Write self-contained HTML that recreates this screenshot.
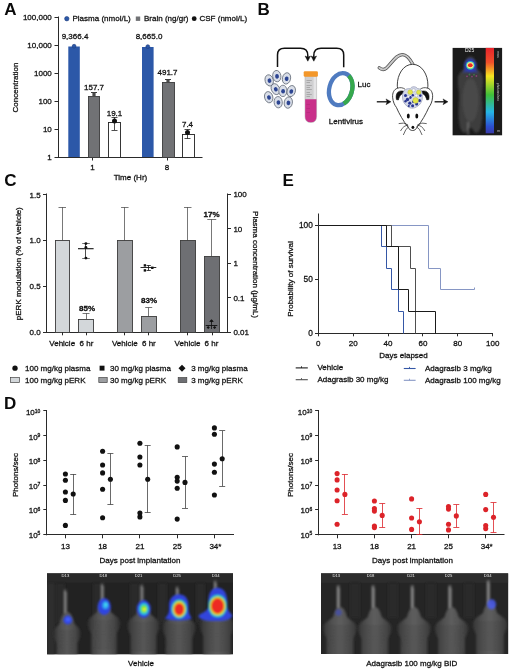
<!DOCTYPE html>
<html lang="en"><head><meta charset="utf-8"><title>Figure</title>
<style>
html,body{margin:0;padding:0;background:#fff;}
body{width:520px;height:670px;overflow:hidden;}
svg{display:block;font-family:"Liberation Sans", sans-serif;}
</style></head><body>
<svg width="520" height="670" viewBox="0 0 520 670">
<rect width="520" height="670" fill="#fff"/>
<defs>
<filter id="b1" x="-50%" y="-50%" width="200%" height="200%"><feGaussianBlur stdDeviation="0.8"/></filter>
<filter id="b2" x="-50%" y="-50%" width="200%" height="200%"><feGaussianBlur stdDeviation="1.6"/></filter>
<filter id="b3" x="-50%" y="-50%" width="200%" height="200%"><feGaussianBlur stdDeviation="2.5"/></filter>
<filter id="b05" x="-50%" y="-50%" width="200%" height="200%"><feGaussianBlur stdDeviation="0.45"/></filter>
<linearGradient id="cbar" x1="0" y1="0" x2="0" y2="1">
<stop offset="0" stop-color="#e8232b"/><stop offset="0.17" stop-color="#f0502a"/><stop offset="0.33" stop-color="#f6e520"/>
<stop offset="0.55" stop-color="#3fbf3a"/><stop offset="0.75" stop-color="#25b6e6"/><stop offset="0.92" stop-color="#2c4fd0"/><stop offset="1" stop-color="#3a3aa8"/>
</linearGradient>
<linearGradient id="bgv" x1="0" y1="0" x2="0" y2="1">
<stop offset="0" stop-color="#3a3a3a"/><stop offset="0.12" stop-color="#2b2b2b"/><stop offset="0.6" stop-color="#2d2d2d"/><stop offset="1" stop-color="#262626"/>
</linearGradient>
<linearGradient id="bgt" x1="0" y1="0" x2="0" y2="1">
<stop offset="0" stop-color="#3c3c3c"/><stop offset="0.12" stop-color="#2f2f2f"/><stop offset="0.6" stop-color="#333"/><stop offset="1" stop-color="#2b2b2b"/>
</linearGradient>
<radialGradient id="hotB"><stop offset="0" stop-color="#4a6bff"/><stop offset="0.6" stop-color="#2f45e0"/><stop offset="1" stop-color="#2838c8" stop-opacity="0"/></radialGradient>
</defs>
<text x="4.20" y="15.02" font-size="17" text-anchor="start" font-weight="bold" fill="#0a0a0a">A</text>
<line x1="58.50" y1="16.50" x2="58.50" y2="157.50" stroke="#2a2a2a" stroke-width="1"/>
<line x1="57.50" y1="157.50" x2="202.50" y2="157.50" stroke="#2a2a2a" stroke-width="1"/>
<line x1="54.50" y1="17.50" x2="58.00" y2="17.50" stroke="#2a2a2a" stroke-width="1"/>
<text x="51.80" y="19.88" font-size="8.0" text-anchor="end" font-weight="normal" fill="#111" stroke="#111" stroke-width="0.28">100,000</text>
<line x1="54.50" y1="45.50" x2="58.00" y2="45.50" stroke="#2a2a2a" stroke-width="1"/>
<text x="51.80" y="47.88" font-size="8.0" text-anchor="end" font-weight="normal" fill="#111" stroke="#111" stroke-width="0.28">10,000</text>
<line x1="54.50" y1="73.50" x2="58.00" y2="73.50" stroke="#2a2a2a" stroke-width="1"/>
<text x="51.80" y="75.88" font-size="8.0" text-anchor="end" font-weight="normal" fill="#111" stroke="#111" stroke-width="0.28">1000</text>
<line x1="54.50" y1="101.50" x2="58.00" y2="101.50" stroke="#2a2a2a" stroke-width="1"/>
<text x="51.80" y="103.88" font-size="8.0" text-anchor="end" font-weight="normal" fill="#111" stroke="#111" stroke-width="0.28">100</text>
<line x1="54.50" y1="129.50" x2="58.00" y2="129.50" stroke="#2a2a2a" stroke-width="1"/>
<text x="51.80" y="131.88" font-size="8.0" text-anchor="end" font-weight="normal" fill="#111" stroke="#111" stroke-width="0.28">10</text>
<line x1="54.50" y1="157.50" x2="58.00" y2="157.50" stroke="#2a2a2a" stroke-width="1"/>
<text x="51.80" y="159.88" font-size="8.0" text-anchor="end" font-weight="normal" fill="#111" stroke="#111" stroke-width="0.28">1</text>
<line x1="92.50" y1="157.00" x2="92.50" y2="160.50" stroke="#2a2a2a" stroke-width="1"/>
<line x1="167.50" y1="157.00" x2="167.50" y2="160.50" stroke="#2a2a2a" stroke-width="1"/>
<text x="92.50" y="170.38" font-size="8.0" text-anchor="middle" font-weight="normal" fill="#111" stroke="#111" stroke-width="0.28">1</text>
<text x="167.00" y="170.38" font-size="8.0" text-anchor="middle" font-weight="normal" fill="#111" stroke="#111" stroke-width="0.28">8</text>
<text x="130.50" y="179.88" font-size="8.0" text-anchor="middle" font-weight="normal" fill="#111" stroke="#111" stroke-width="0.28">Time (Hr)</text>
<text x="15.50" y="90.38" font-size="8.0" text-anchor="middle" font-weight="normal" fill="#111" stroke="#111" stroke-width="0.28" transform="rotate(-90 15.50 87.50)">Concentration</text>
<rect x="68.30" y="46.50" width="11.50" height="110.50" fill="#2c58a8" stroke="none" stroke-width="1"/>
<circle cx="74.10" cy="46.20" r="1.9" fill="#2c58a8" stroke="#1f3d7c" stroke-width="0.6"/>
<rect x="88.50" y="96.50" width="11.00" height="61.00" fill="#717275" stroke="#3c3c3c" stroke-width="0.9"/>
<line x1="94.50" y1="92.60" x2="94.50" y2="96.00" stroke="#3c3c3c" stroke-width="1"/>
<line x1="91.00" y1="92.50" x2="97.00" y2="92.50" stroke="#3c3c3c" stroke-width="1"/>
<rect x="92.40" y="92.80" width="3.20" height="3.20" fill="#4a4a4a" stroke="none" stroke-width="1"/>
<rect x="108.50" y="122.50" width="12.00" height="35.00" fill="#fff" stroke="#222" stroke-width="0.9"/>
<line x1="114.50" y1="117.00" x2="114.50" y2="130.00" stroke="#222" stroke-width="0.8"/>
<line x1="111.50" y1="117.50" x2="117.50" y2="117.50" stroke="#222" stroke-width="0.8"/>
<line x1="111.50" y1="130.50" x2="117.50" y2="130.50" stroke="#222" stroke-width="0.8"/>
<circle cx="114.50" cy="121.00" r="2.5" fill="#111" stroke="none" stroke-width="1"/>
<rect x="142.00" y="47.00" width="11.60" height="110.00" fill="#2c58a8" stroke="none" stroke-width="1"/>
<circle cx="147.80" cy="46.60" r="1.9" fill="#2c58a8" stroke="#1f3d7c" stroke-width="0.6"/>
<rect x="162.50" y="82.50" width="12.00" height="75.00" fill="#717275" stroke="#3c3c3c" stroke-width="0.9"/>
<line x1="168.50" y1="79.30" x2="168.50" y2="83.00" stroke="#3c3c3c" stroke-width="1"/>
<line x1="165.00" y1="79.50" x2="171.00" y2="79.50" stroke="#3c3c3c" stroke-width="1"/>
<rect x="166.40" y="79.60" width="3.20" height="3.20" fill="#4a4a4a" stroke="none" stroke-width="1"/>
<rect x="182.50" y="134.50" width="12.00" height="23.00" fill="#fff" stroke="#222" stroke-width="0.9"/>
<line x1="187.50" y1="129.50" x2="187.50" y2="138.70" stroke="#222" stroke-width="0.8"/>
<line x1="184.50" y1="129.50" x2="190.50" y2="129.50" stroke="#222" stroke-width="0.8"/>
<line x1="184.50" y1="138.50" x2="190.50" y2="138.50" stroke="#222" stroke-width="0.8"/>
<circle cx="187.50" cy="132.50" r="2.5" fill="#111" stroke="none" stroke-width="1"/>
<text x="75.00" y="38.88" font-size="8.0" text-anchor="middle" font-weight="normal" fill="#111" stroke="#111" stroke-width="0.28">9,366.4</text>
<text x="94.00" y="90.38" font-size="8.0" text-anchor="middle" font-weight="normal" fill="#111" stroke="#111" stroke-width="0.28">157.7</text>
<text x="114.50" y="116.38" font-size="8.0" text-anchor="middle" font-weight="normal" fill="#111" stroke="#111" stroke-width="0.28">19.1</text>
<text x="149.00" y="38.88" font-size="8.0" text-anchor="middle" font-weight="normal" fill="#111" stroke="#111" stroke-width="0.28">8,665.0</text>
<text x="167.50" y="74.88" font-size="8.0" text-anchor="middle" font-weight="normal" fill="#111" stroke="#111" stroke-width="0.28">491.7</text>
<text x="187.50" y="126.88" font-size="8.0" text-anchor="middle" font-weight="normal" fill="#111" stroke="#111" stroke-width="0.28">7.4</text>
<circle cx="66.80" cy="18.70" r="2.2" fill="#2c58a8" stroke="#1f3d7c" stroke-width="0.6"/>
<text x="72.50" y="20.58" font-size="8.0" text-anchor="start" font-weight="normal" fill="#111" stroke="#111" stroke-width="0.28">Plasma (nmol/L)</text>
<rect x="135.80" y="16.50" width="4.40" height="4.40" fill="#717275" stroke="none" stroke-width="1"/>
<text x="144.00" y="20.58" font-size="8.0" text-anchor="start" font-weight="normal" fill="#111" stroke="#111" stroke-width="0.28">Brain (ng/gr)</text>
<circle cx="194.20" cy="18.70" r="2.4" fill="#111" stroke="none" stroke-width="1"/>
<text x="199.50" y="20.58" font-size="8.0" text-anchor="start" font-weight="normal" fill="#111" stroke="#111" stroke-width="0.28">CSF (nmol/L)</text>
<text x="257.60" y="15.02" font-size="17" text-anchor="start" font-weight="bold" fill="#0a0a0a">B</text>
<path d="M277.5 67 V55 Q277.5 48.3 284.5 48.3 H300.5 Q307.8 48.3 307.8 55.5 V58" fill="none" stroke="#111" stroke-width="1.5"/>
<path d="M305.1 56 L307.8 61.2 L310.5 56 L307.8 57.3 Z" fill="#111" stroke="#111" stroke-width="0.5" stroke-linejoin="round"/>
<path d="M343.7 67.3 V55 Q343.7 48.3 336.7 48.3 H321 Q313.8 48.3 313.8 55.5 V58" fill="none" stroke="#111" stroke-width="1.5"/>
<path d="M311.1 56 L313.8 61.2 L316.5 56 L313.8 57.3 Z" fill="#111" stroke="#111" stroke-width="0.5" stroke-linejoin="round"/>
<ellipse cx="269.2" cy="80.4" rx="4.1" ry="5.7" transform="rotate(-15 269.2 80.4)" fill="#d9dee8" stroke="#5d6572" stroke-width="0.75"/>
<ellipse cx="269.4" cy="80.7" rx="1.9" ry="2.3" transform="rotate(-15 269.2 80.4)" fill="#2d4592"/>
<ellipse cx="276.8" cy="76.1" rx="4.1" ry="5.7" transform="rotate(-8 276.8 76.1)" fill="#d9dee8" stroke="#5d6572" stroke-width="0.75"/>
<ellipse cx="277.0" cy="76.39999999999999" rx="1.9" ry="2.3" transform="rotate(-8 276.8 76.1)" fill="#2d4592"/>
<ellipse cx="286.5" cy="78.4" rx="4.1" ry="5.7" transform="rotate(12 286.5 78.4)" fill="#d9dee8" stroke="#5d6572" stroke-width="0.75"/>
<ellipse cx="286.7" cy="78.7" rx="1.9" ry="2.3" transform="rotate(12 286.5 78.4)" fill="#2d4592"/>
<ellipse cx="275.5" cy="89.1" rx="4.1" ry="5.7" transform="rotate(-25 275.5 89.1)" fill="#d9dee8" stroke="#5d6572" stroke-width="0.75"/>
<ellipse cx="275.7" cy="89.39999999999999" rx="1.9" ry="2.3" transform="rotate(-25 275.5 89.1)" fill="#2d4592"/>
<ellipse cx="282.9" cy="90.9" rx="4.1" ry="5.7" transform="rotate(0 282.9 90.9)" fill="#d9dee8" stroke="#5d6572" stroke-width="0.75"/>
<ellipse cx="283.09999999999997" cy="91.2" rx="1.9" ry="2.3" transform="rotate(0 282.9 90.9)" fill="#2d4592"/>
<ellipse cx="291.2" cy="91.1" rx="4.1" ry="5.7" transform="rotate(18 291.2 91.1)" fill="#d9dee8" stroke="#5d6572" stroke-width="0.75"/>
<ellipse cx="291.4" cy="91.39999999999999" rx="1.9" ry="2.3" transform="rotate(18 291.2 91.1)" fill="#2d4592"/>
<ellipse cx="268.7" cy="97.2" rx="4.1" ry="5.7" transform="rotate(-15 268.7 97.2)" fill="#d9dee8" stroke="#5d6572" stroke-width="0.75"/>
<ellipse cx="268.9" cy="97.5" rx="1.9" ry="2.3" transform="rotate(-15 268.7 97.2)" fill="#2d4592"/>
<ellipse cx="278.2" cy="102.2" rx="4.1" ry="5.7" transform="rotate(-5 278.2 102.2)" fill="#d9dee8" stroke="#5d6572" stroke-width="0.75"/>
<ellipse cx="278.4" cy="102.5" rx="1.9" ry="2.3" transform="rotate(-5 278.2 102.2)" fill="#2d4592"/>
<ellipse cx="288.3" cy="102.6" rx="4.1" ry="5.7" transform="rotate(10 288.3 102.6)" fill="#d9dee8" stroke="#5d6572" stroke-width="0.75"/>
<ellipse cx="288.5" cy="102.89999999999999" rx="1.9" ry="2.3" transform="rotate(10 288.3 102.6)" fill="#2d4592"/>
<path d="M305 76.3 H316.6 V116.5 Q316.6 122.5 310.8 122.5 Q305 122.5 305 116.5 Z" fill="#cfcfd1" stroke="#aaa" stroke-width="0.5"/>
<path d="M305.2 99.3 H316.4 V116.5 Q316.4 122.3 310.8 122.3 Q305.2 122.3 305.2 116.5 Z" fill="#c9308a"/>
<rect x="313.60" y="77.00" width="2.60" height="22.00" fill="#e4e4e6" stroke="none" stroke-width="1"/>
<line x1="306.50" y1="80.50" x2="311.80" y2="80.50" stroke="#8a8a8a" stroke-width="0.55"/>
<line x1="306.50" y1="82.50" x2="310.00" y2="82.50" stroke="#8a8a8a" stroke-width="0.55"/>
<line x1="306.50" y1="85.50" x2="311.80" y2="85.50" stroke="#8a8a8a" stroke-width="0.55"/>
<line x1="306.50" y1="87.50" x2="310.00" y2="87.50" stroke="#8a8a8a" stroke-width="0.55"/>
<line x1="306.50" y1="89.50" x2="311.80" y2="89.50" stroke="#8a8a8a" stroke-width="0.55"/>
<line x1="306.50" y1="92.50" x2="310.00" y2="92.50" stroke="#8a8a8a" stroke-width="0.55"/>
<line x1="306.50" y1="94.50" x2="311.80" y2="94.50" stroke="#8a8a8a" stroke-width="0.55"/>
<line x1="306.50" y1="96.50" x2="310.00" y2="96.50" stroke="#8a8a8a" stroke-width="0.55"/>
<line x1="306.50" y1="104.50" x2="310.00" y2="104.50" stroke="#a82873" stroke-width="0.5"/>
<line x1="306.50" y1="108.50" x2="310.00" y2="108.50" stroke="#a82873" stroke-width="0.5"/>
<line x1="306.50" y1="112.50" x2="310.00" y2="112.50" stroke="#a82873" stroke-width="0.5"/>
<rect x="303.70" y="71.20" width="14.20" height="5.50" fill="#f3972a" stroke="none" stroke-width="0" rx="1.2"/>
<g transform="rotate(15 340.7 89.15)">
<ellipse cx="340.7" cy="89.15" rx="11.4" ry="16.3" fill="none" stroke="#4f7bc0" stroke-width="4.3"/>
<path d="M344.97 74.04 A11.4 16.3 0 0 1 347.40 102.34" fill="none" stroke="#36a84c" stroke-width="4.3"/>
</g>
<text x="357.60" y="87.08" font-size="8.0" text-anchor="start" font-weight="normal" fill="#111" stroke="#111" stroke-width="0.28">Luc</text>
<text x="328.80" y="123.88" font-size="8.0" text-anchor="start" font-weight="normal" fill="#111" stroke="#111" stroke-width="0.28">Lentivirus</text>
<line x1="376.80" y1="101.80" x2="388.00" y2="101.80" stroke="#111" stroke-width="1.3"/>
<path d="M386.00 98.90 L391.00 101.80 L386.00 104.70 L387.20 101.80 Z" fill="#111" stroke="#111" stroke-width="0.4" stroke-linejoin="round"/>
<line x1="434.60" y1="101.80" x2="445.00" y2="101.80" stroke="#111" stroke-width="1.3"/>
<path d="M443.00 98.90 L448.00 101.80 L443.00 104.70 L444.20 101.80 Z" fill="#111" stroke="#111" stroke-width="0.4" stroke-linejoin="round"/>
<path d="M413 64.5 C410 59 407 54.6 402.5 54.6 C396 54.6 392 63 386.5 68 C384 70.2 381.5 69.8 379.2 67.8" fill="none" stroke="#4a4a4a" stroke-width="3.3" stroke-linecap="round"/>
<path d="M413 64.5 C410 59 407 54.6 402.5 54.6 C396 54.6 392 63 386.5 68 C384 70.2 381.5 69.8 379.2 67.8" fill="none" stroke="#c9c9c9" stroke-width="1.9" stroke-linecap="round"/>
<path d="M412.6 64.3 C403 64.3 397.3 75 397.3 85 C397.3 86.5 397.4 87.3 397.6 88.2 C394 89.2 392.3 93 392.6 97.2 C393 102 394.6 105 396.4 107.4 C399 113.5 403.5 121.5 408.2 127.3 C410 131.6 415.2 131.6 417 127.3 C421.7 121.5 426.2 113.5 428.8 107.4 C430.6 105 432.2 102 432.6 97.2 C432.9 93 431.2 89.2 427.6 88.2 C427.8 87.3 427.9 86.5 427.9 85 C427.9 75 422.2 64.3 412.6 64.3 Z" fill="#fff" stroke="#2e2e2e" stroke-width="0.9"/>
<path d="M397.6 88.2 C400 87.2 403 87.6 405 89.2" fill="none" stroke="#2e2e2e" stroke-width="0.8"/>
<path d="M427.6 88.2 C425.2 87.2 422.2 87.6 420.2 89.2" fill="none" stroke="#2e2e2e" stroke-width="0.8"/>
<path d="M396.4 99.6 C395 92.5 399 88.6 406.9 92.4 C402.2 92.6 399.6 95 398.4 99.9 Z" fill="#111" stroke="#111" stroke-width="0.6" stroke-linejoin="round"/>
<path d="M428.8 99.6 C430.2 92.5 426.2 88.6 418.3 92.4 C423 92.6 425.6 95 426.8 99.9 Z" fill="#111" stroke="#111" stroke-width="0.6" stroke-linejoin="round"/>
<path d="M402.5 97 C402 91 406 87.8 410 88.8 C412 85.8 416 86.2 417.5 88.6 C421 88.2 423 92 422.2 96 C423 101 420 105 417 106.6 C414 109 409 108.6 407 106 C404 104 402.5 101 402.5 97 Z" fill="#d3d8e8" stroke="#7a80a0" stroke-width="0.5"/>
<circle cx="405.50" cy="95.50" r="1.5" fill="#27348f" stroke="none" stroke-width="1"/>
<circle cx="407.50" cy="99.50" r="1.7" fill="#27348f" stroke="none" stroke-width="1"/>
<circle cx="409.80" cy="103.20" r="1.6" fill="#27348f" stroke="none" stroke-width="1"/>
<circle cx="412.60" cy="105.80" r="1.5" fill="#27348f" stroke="none" stroke-width="1"/>
<circle cx="405.50" cy="101.30" r="1.2" fill="#27348f" stroke="none" stroke-width="1"/>
<circle cx="410.30" cy="97.50" r="1.4" fill="#27348f" stroke="none" stroke-width="1"/>
<circle cx="413.30" cy="101.80" r="1.3" fill="#27348f" stroke="none" stroke-width="1"/>
<circle cx="416.60" cy="104.00" r="1.5" fill="#27348f" stroke="none" stroke-width="1"/>
<circle cx="419.50" cy="100.60" r="1.5" fill="#27348f" stroke="none" stroke-width="1"/>
<circle cx="420.30" cy="95.60" r="1.3" fill="#27348f" stroke="none" stroke-width="1"/>
<circle cx="412.80" cy="95.30" r="1.2" fill="#27348f" stroke="none" stroke-width="1"/>
<circle cx="408.80" cy="106.00" r="1.1" fill="#27348f" stroke="none" stroke-width="1"/>
<circle cx="413.60" cy="90.20" r="1.7" fill="#f4f5f8" stroke="#8a8fa8" stroke-width="0.4"/>
<circle cx="416.30" cy="95.60" r="1.5" fill="#f4f5f8" stroke="#8a8fa8" stroke-width="0.4"/>
<circle cx="408.30" cy="96.60" r="1.3" fill="#f4f5f8" stroke="#8a8fa8" stroke-width="0.4"/>
<circle cx="410.20" cy="92.20" r="2.4" fill="#e2e64a" stroke="#aeb238" stroke-width="0.35"/>
<circle cx="418.70" cy="92.30" r="2.2" fill="#e2e64a" stroke="#aeb238" stroke-width="0.35"/>
<circle cx="415.60" cy="100.40" r="2.8" fill="#e2e64a" stroke="#aeb238" stroke-width="0.35"/>
<ellipse cx="408.3" cy="116" rx="1.45" ry="2.6" fill="#0d0d0d"/><ellipse cx="416.8" cy="116" rx="1.45" ry="2.6" fill="#0d0d0d"/>
<ellipse cx="412.9" cy="127.3" rx="1.4" ry="1.6" fill="#0d0d0d"/>
<path d="M407.9 124.8 Q403.7 122 398.7 123.6" fill="none" stroke="#333" stroke-width="0.75"/>
<path d="M408.2 125.4 Q403.7 125 400.5 131" fill="none" stroke="#333" stroke-width="0.75"/>
<path d="M409.1 126.6 Q405.7 128 403.3 135" fill="none" stroke="#333" stroke-width="0.75"/>
<path d="M417.5 124.8 Q421.7 122 426.7 123.6" fill="none" stroke="#333" stroke-width="0.75"/>
<path d="M417.2 125.4 Q421.7 125 424.9 131" fill="none" stroke="#333" stroke-width="0.75"/>
<path d="M416.3 126.6 Q419.7 128 422.1 135" fill="none" stroke="#333" stroke-width="0.75"/>
<rect x="452.60" y="47.90" width="49.50" height="87.40" fill="#1b1b1b" stroke="none" stroke-width="1"/>
<g filter="url(#b1)">
<path d="M470.3 56.5 C466 56.5 464.5 62 464.8 67 C463 71 458.5 72 458 78 C457.5 86 459.5 90 459 98 C458.5 108 458 116 459.5 124 C460 130 463 133 465 133 L469 128 L471.5 128 L475.5 133 C478 133 481 130 481.5 124 C483 116 482.5 108 482 98 C481.5 90 483.5 86 483 78 C482.5 72 478 71 476 67 C476.3 62 474.6 56.5 470.3 56.5 Z" fill="#3d3d3d"/>
<ellipse cx="470.5" cy="100" rx="8" ry="22" fill="#484848"/>
<rect x="467.6" y="122" width="1" height="13" fill="#8a8a8a"/>
</g>
<g filter="url(#b05)" opacity="0.55">
<circle cx="467.00" cy="76.30" r="0.9" fill="#c040a0" stroke="none" stroke-width="1"/>
<circle cx="472.00" cy="76.60" r="0.9" fill="#c040a0" stroke="none" stroke-width="1"/>
<circle cx="476.40" cy="76.00" r="0.9" fill="#c040a0" stroke="none" stroke-width="1"/>
<circle cx="469.50" cy="74.50" r="0.9" fill="#40a050" stroke="none" stroke-width="1"/>
<circle cx="474.00" cy="74.70" r="0.9" fill="#40a050" stroke="none" stroke-width="1"/>
</g>
<g filter="url(#b1)"><ellipse cx="470.3" cy="65.6" rx="6.3" ry="7" fill="#2c3cc0" opacity="0.85"/><path d="M464.5 69 L462.5 73 L469 72 L478 73 L476.3 69 Z" fill="#2c3cc0" opacity="0.6"/></g>
<g filter="url(#b05)">
<ellipse cx="470.3" cy="65.3" rx="4.4" ry="4.4" fill="#2ca6e6"/>
<ellipse cx="470.3" cy="65.3" rx="3.7" ry="3.6" fill="#7fe070"/>
<ellipse cx="470.3" cy="65.3" rx="3.2" ry="3.0" fill="#f6f0a0"/>
<ellipse cx="470.3" cy="65.3" rx="2.4" ry="2.0" fill="#f02a22"/>
</g>
<rect x="485.70" y="47.90" width="8.30" height="85.40" fill="url(#cbar)" stroke="none" stroke-width="1"/>
<text x="469.60" y="52.10" font-size="5" text-anchor="middle" font-weight="normal" fill="#f2f2f2">D25</text>
<text x="497.90" y="55.72" font-size="3.4" text-anchor="middle" font-weight="normal" fill="#ccc" transform="rotate(90 497.90 54.50)">max</text>
<text x="497.90" y="93.22" font-size="3.4" text-anchor="middle" font-weight="normal" fill="#ccc" transform="rotate(90 497.90 92.00)">photons/sec</text>
<text x="497.90" y="132.22" font-size="3.4" text-anchor="middle" font-weight="normal" fill="#ccc" transform="rotate(90 497.90 131.00)">0</text>
<text x="4.20" y="185.82" font-size="17" text-anchor="start" font-weight="bold" fill="#0a0a0a">C</text>
<line x1="46.50" y1="193.50" x2="46.50" y2="332.50" stroke="#2a2a2a" stroke-width="1"/>
<line x1="45.80" y1="332.50" x2="228.30" y2="332.50" stroke="#2a2a2a" stroke-width="1"/>
<line x1="227.50" y1="193.50" x2="227.50" y2="332.50" stroke="#2a2a2a" stroke-width="1"/>
<line x1="43.00" y1="194.50" x2="46.30" y2="194.50" stroke="#2a2a2a" stroke-width="1"/>
<text x="40.70" y="197.78" font-size="8.0" text-anchor="end" font-weight="normal" fill="#111" stroke="#111" stroke-width="0.28">1.5</text>
<line x1="43.00" y1="240.50" x2="46.30" y2="240.50" stroke="#2a2a2a" stroke-width="1"/>
<text x="40.70" y="243.48" font-size="8.0" text-anchor="end" font-weight="normal" fill="#111" stroke="#111" stroke-width="0.28">1.0</text>
<line x1="43.00" y1="286.50" x2="46.30" y2="286.50" stroke="#2a2a2a" stroke-width="1"/>
<text x="40.70" y="289.18" font-size="8.0" text-anchor="end" font-weight="normal" fill="#111" stroke="#111" stroke-width="0.28">0.5</text>
<line x1="43.00" y1="332.50" x2="46.30" y2="332.50" stroke="#2a2a2a" stroke-width="1"/>
<text x="40.70" y="334.88" font-size="8.0" text-anchor="end" font-weight="normal" fill="#111" stroke="#111" stroke-width="0.28">0.0</text>
<line x1="227.80" y1="194.50" x2="231.00" y2="194.50" stroke="#2a2a2a" stroke-width="1"/>
<text x="233.40" y="196.98" font-size="8.0" text-anchor="start" font-weight="normal" fill="#111" stroke="#111" stroke-width="0.28">100</text>
<line x1="227.80" y1="228.50" x2="231.00" y2="228.50" stroke="#2a2a2a" stroke-width="1"/>
<text x="233.40" y="231.53" font-size="8.0" text-anchor="start" font-weight="normal" fill="#111" stroke="#111" stroke-width="0.28">10</text>
<line x1="227.80" y1="263.50" x2="231.00" y2="263.50" stroke="#2a2a2a" stroke-width="1"/>
<text x="233.40" y="266.08" font-size="8.0" text-anchor="start" font-weight="normal" fill="#111" stroke="#111" stroke-width="0.28">1</text>
<line x1="227.80" y1="297.50" x2="231.00" y2="297.50" stroke="#2a2a2a" stroke-width="1"/>
<text x="233.40" y="300.63" font-size="8.0" text-anchor="start" font-weight="normal" fill="#111" stroke="#111" stroke-width="0.28">0.1</text>
<line x1="227.80" y1="332.50" x2="231.00" y2="332.50" stroke="#2a2a2a" stroke-width="1"/>
<text x="233.40" y="335.18" font-size="8.0" text-anchor="start" font-weight="normal" fill="#111" stroke="#111" stroke-width="0.28">0.01</text>
<text x="18.00" y="266.58" font-size="8.0" text-anchor="middle" font-weight="normal" fill="#111" stroke="#111" stroke-width="0.28" transform="rotate(-90 18.00 263.70)">pERK modulation (% of vehicle)</text>
<text x="255.60" y="267.38" font-size="8.0" text-anchor="middle" font-weight="normal" fill="#111" stroke="#111" stroke-width="0.28" transform="rotate(90 255.60 264.50)">Plasma concentration (µg/mL)</text>
<line x1="62.50" y1="207.00" x2="62.50" y2="240.70" stroke="#555" stroke-width="0.8"/>
<line x1="58.50" y1="207.50" x2="66.00" y2="207.50" stroke="#555" stroke-width="0.8"/>
<rect x="55.50" y="240.50" width="14.00" height="92.00" fill="#d3d7da" stroke="#3c3c3c" stroke-width="0.9"/>
<line x1="86.50" y1="313.00" x2="86.50" y2="319.50" stroke="#555" stroke-width="0.8"/>
<line x1="82.55" y1="313.50" x2="89.55" y2="313.50" stroke="#555" stroke-width="0.8"/>
<rect x="78.50" y="319.50" width="15.00" height="13.00" fill="#d3d7da" stroke="#3c3c3c" stroke-width="0.9"/>
<line x1="124.50" y1="207.00" x2="124.50" y2="240.70" stroke="#555" stroke-width="0.8"/>
<line x1="121.05" y1="207.50" x2="128.55" y2="207.50" stroke="#555" stroke-width="0.8"/>
<rect x="117.50" y="240.50" width="15.00" height="92.00" fill="#9c9ea1" stroke="#3c3c3c" stroke-width="0.9"/>
<line x1="148.50" y1="307.50" x2="148.50" y2="316.70" stroke="#555" stroke-width="0.8"/>
<line x1="145.20" y1="307.50" x2="152.20" y2="307.50" stroke="#555" stroke-width="0.8"/>
<rect x="141.50" y="316.50" width="15.00" height="16.00" fill="#9c9ea1" stroke="#3c3c3c" stroke-width="0.9"/>
<line x1="187.50" y1="207.00" x2="187.50" y2="240.70" stroke="#555" stroke-width="0.8"/>
<line x1="184.00" y1="207.50" x2="191.50" y2="207.50" stroke="#555" stroke-width="0.8"/>
<rect x="180.50" y="240.50" width="15.00" height="92.00" fill="#6e6f73" stroke="#3c3c3c" stroke-width="0.9"/>
<line x1="211.50" y1="219.20" x2="211.50" y2="256.50" stroke="#555" stroke-width="0.8"/>
<line x1="207.25" y1="219.50" x2="216.25" y2="219.50" stroke="#555" stroke-width="0.8"/>
<rect x="204.50" y="256.50" width="15.00" height="76.00" fill="#6e6f73" stroke="#3c3c3c" stroke-width="0.9"/>
<line x1="62.50" y1="332.00" x2="62.50" y2="335.30" stroke="#2a2a2a" stroke-width="1"/>
<line x1="86.50" y1="332.00" x2="86.50" y2="335.30" stroke="#2a2a2a" stroke-width="1"/>
<line x1="124.50" y1="332.00" x2="124.50" y2="335.30" stroke="#2a2a2a" stroke-width="1"/>
<line x1="148.50" y1="332.00" x2="148.50" y2="335.30" stroke="#2a2a2a" stroke-width="1"/>
<line x1="187.50" y1="332.00" x2="187.50" y2="335.30" stroke="#2a2a2a" stroke-width="1"/>
<line x1="212.50" y1="332.00" x2="212.50" y2="335.30" stroke="#2a2a2a" stroke-width="1"/>
<text x="62.20" y="345.88" font-size="8.0" text-anchor="middle" font-weight="normal" fill="#111" stroke="#111" stroke-width="0.28">Vehicle</text>
<text x="86.50" y="345.88" font-size="8.0" text-anchor="middle" font-weight="normal" fill="#111" stroke="#111" stroke-width="0.28">6 hr</text>
<text x="124.80" y="345.88" font-size="8.0" text-anchor="middle" font-weight="normal" fill="#111" stroke="#111" stroke-width="0.28">Vehicle</text>
<text x="148.90" y="345.88" font-size="8.0" text-anchor="middle" font-weight="normal" fill="#111" stroke="#111" stroke-width="0.28">6 hr</text>
<text x="187.50" y="345.88" font-size="8.0" text-anchor="middle" font-weight="normal" fill="#111" stroke="#111" stroke-width="0.28">Vehicle</text>
<text x="211.50" y="345.88" font-size="8.0" text-anchor="middle" font-weight="normal" fill="#111" stroke="#111" stroke-width="0.28">6 hr</text>
<text x="87.00" y="310.88" font-size="8.0" text-anchor="middle" font-weight="bold" fill="#111" stroke="#111" stroke-width="0.3">85%</text>
<text x="149.00" y="303.18" font-size="8.0" text-anchor="middle" font-weight="bold" fill="#111" stroke="#111" stroke-width="0.3">83%</text>
<text x="211.50" y="216.78" font-size="8.0" text-anchor="middle" font-weight="bold" fill="#111" stroke="#111" stroke-width="0.3">17%</text>
<line x1="78.00" y1="248.70" x2="93.60" y2="248.70" stroke="#111" stroke-width="1.1"/>
<line x1="85.50" y1="243.40" x2="85.50" y2="258.00" stroke="#222" stroke-width="0.8"/>
<line x1="82.20" y1="243.50" x2="89.80" y2="243.50" stroke="#333" stroke-width="0.7"/>
<line x1="82.20" y1="258.50" x2="89.80" y2="258.50" stroke="#333" stroke-width="0.7"/>
<circle cx="85.90" cy="243.60" r="1.45" fill="#111" stroke="none" stroke-width="1"/>
<circle cx="85.90" cy="247.50" r="1.45" fill="#111" stroke="none" stroke-width="1"/>
<circle cx="85.90" cy="258.10" r="1.45" fill="#111" stroke="none" stroke-width="1"/>
<line x1="140.50" y1="267.50" x2="156.30" y2="267.50" stroke="#111" stroke-width="0.9"/>
<line x1="148.50" y1="265.40" x2="148.50" y2="270.30" stroke="#111" stroke-width="0.8"/>
<line x1="146.60" y1="265.50" x2="150.80" y2="265.50" stroke="#111" stroke-width="0.8"/>
<line x1="146.60" y1="270.50" x2="150.80" y2="270.50" stroke="#111" stroke-width="0.8"/>
<rect x="143.70" y="264.20" width="2.40" height="2.40" fill="#111" stroke="none" stroke-width="1"/>
<rect x="143.70" y="269.20" width="2.40" height="2.40" fill="#111" stroke="none" stroke-width="1"/>
<rect x="151.10" y="266.60" width="2.40" height="2.40" fill="#111" stroke="none" stroke-width="1"/>
<line x1="205.70" y1="325.50" x2="217.30" y2="325.50" stroke="#111" stroke-width="0.9"/>
<line x1="211.50" y1="320.50" x2="211.50" y2="329.00" stroke="#111" stroke-width="0.8"/>
<line x1="209.50" y1="321.50" x2="213.50" y2="321.50" stroke="#111" stroke-width="0.8"/>
<path d="M208.2 325.9 L209.79999999999998 327.5 L208.2 329.1 L206.6 327.5 Z" fill="#111"/>
<path d="M211.5 319.2 L213.1 320.8 L211.5 322.40000000000003 L209.9 320.8 Z" fill="#111"/>
<path d="M214.6 325.9 L216.2 327.5 L214.6 329.1 L213.0 327.5 Z" fill="#111"/>
<circle cx="15.00" cy="368.20" r="2.65" fill="#111" stroke="none" stroke-width="1"/>
<text x="25.00" y="370.88" font-size="8.0" text-anchor="start" font-weight="normal" fill="#111" stroke="#111" stroke-width="0.28">100 mg/kg plasma</text>
<rect x="99.60" y="365.70" width="4.90" height="4.90" fill="#111" stroke="none" stroke-width="1"/>
<text x="110.00" y="370.88" font-size="8.0" text-anchor="start" font-weight="normal" fill="#111" stroke="#111" stroke-width="0.28">30 mg/kg plasma</text>
<path d="M182 364.7 L185.5 368.2 L182 371.7 L178.5 368.2 Z" fill="#111"/>
<text x="191.20" y="370.88" font-size="8.0" text-anchor="start" font-weight="normal" fill="#111" stroke="#111" stroke-width="0.28">3 mg/kg plasma</text>
<rect x="10.60" y="377.60" width="8.80" height="5.00" fill="#d3d7da" stroke="#444" stroke-width="0.7"/>
<text x="25.00" y="382.88" font-size="8.0" text-anchor="start" font-weight="normal" fill="#111" stroke="#111" stroke-width="0.28">100 mg/kg pERK</text>
<rect x="98.80" y="377.60" width="8.40" height="5.00" fill="#9c9ea1" stroke="#444" stroke-width="0.7"/>
<text x="110.00" y="382.88" font-size="8.0" text-anchor="start" font-weight="normal" fill="#111" stroke="#111" stroke-width="0.28">30 mg/kg pERK</text>
<rect x="178.20" y="377.60" width="8.60" height="5.00" fill="#6e6f73" stroke="#444" stroke-width="0.7"/>
<text x="191.20" y="382.88" font-size="8.0" text-anchor="start" font-weight="normal" fill="#111" stroke="#111" stroke-width="0.28">3 mg/kg pERK</text>
<text x="282.60" y="185.62" font-size="17" text-anchor="start" font-weight="bold" fill="#0a0a0a">E</text>
<line x1="318.50" y1="213.50" x2="318.50" y2="333.50" stroke="#2a2a2a" stroke-width="1"/>
<line x1="317.80" y1="333.50" x2="493.00" y2="333.50" stroke="#2a2a2a" stroke-width="1"/>
<line x1="315.00" y1="333.50" x2="318.30" y2="333.50" stroke="#2a2a2a" stroke-width="1"/>
<text x="312.80" y="335.99" font-size="8.3" text-anchor="end" font-weight="normal" fill="#111" stroke="#111" stroke-width="0.28">0</text>
<line x1="315.00" y1="279.50" x2="318.30" y2="279.50" stroke="#2a2a2a" stroke-width="1"/>
<text x="312.80" y="282.09" font-size="8.3" text-anchor="end" font-weight="normal" fill="#111" stroke="#111" stroke-width="0.28">50</text>
<line x1="315.00" y1="225.50" x2="318.30" y2="225.50" stroke="#2a2a2a" stroke-width="1"/>
<text x="312.80" y="228.19" font-size="8.3" text-anchor="end" font-weight="normal" fill="#111" stroke="#111" stroke-width="0.28">100</text>
<line x1="318.50" y1="333.00" x2="318.50" y2="336.30" stroke="#2a2a2a" stroke-width="1"/>
<text x="318.30" y="345.88" font-size="8.0" text-anchor="middle" font-weight="normal" fill="#111" stroke="#111" stroke-width="0.28">0</text>
<line x1="353.50" y1="333.00" x2="353.50" y2="336.30" stroke="#2a2a2a" stroke-width="1"/>
<text x="353.18" y="345.88" font-size="8.0" text-anchor="middle" font-weight="normal" fill="#111" stroke="#111" stroke-width="0.28">20</text>
<line x1="388.50" y1="333.00" x2="388.50" y2="336.30" stroke="#2a2a2a" stroke-width="1"/>
<text x="388.06" y="345.88" font-size="8.0" text-anchor="middle" font-weight="normal" fill="#111" stroke="#111" stroke-width="0.28">40</text>
<line x1="422.50" y1="333.00" x2="422.50" y2="336.30" stroke="#2a2a2a" stroke-width="1"/>
<text x="422.94" y="345.88" font-size="8.0" text-anchor="middle" font-weight="normal" fill="#111" stroke="#111" stroke-width="0.28">60</text>
<line x1="457.50" y1="333.00" x2="457.50" y2="336.30" stroke="#2a2a2a" stroke-width="1"/>
<text x="457.82" y="345.88" font-size="8.0" text-anchor="middle" font-weight="normal" fill="#111" stroke="#111" stroke-width="0.28">80</text>
<line x1="492.50" y1="333.00" x2="492.50" y2="336.30" stroke="#2a2a2a" stroke-width="1"/>
<text x="492.70" y="345.88" font-size="8.0" text-anchor="middle" font-weight="normal" fill="#111" stroke="#111" stroke-width="0.28">100</text>
<text x="403.50" y="357.98" font-size="8.0" text-anchor="middle" font-weight="normal" fill="#111" stroke="#111" stroke-width="0.28">Days elapsed</text>
<text x="290.00" y="281.88" font-size="8.0" text-anchor="middle" font-weight="normal" fill="#111" stroke="#111" stroke-width="0.28" transform="rotate(-90 290.00 279.00)">Probability of survival</text>
<path d="M318.50 225.50 L428.50 225.50 L428.50 268.50 L440.50 268.50 L440.50 289.50 L474.50 289.50 L474.50 287.50" fill="none" stroke="#8696c4" stroke-width="1" stroke-linejoin="miter"/>
<path d="M318.50 225.50 L381.50 225.50 L381.50 246.50 L386.50 246.50 L386.50 268.50 L391.50 268.50 L391.50 289.50 L398.50 289.50 L398.50 311.50 L403.50 311.50 L403.50 333.50" fill="none" stroke="#3557a6" stroke-width="1" stroke-linejoin="miter"/>
<path d="M318.50 225.50 L391.50 225.50 L391.50 246.50 L410.50 246.50 L410.50 268.50 L415.50 268.50 L415.50 333.50" fill="none" stroke="#4f4f4f" stroke-width="1" stroke-linejoin="miter"/>
<path d="M318.50 225.50 L386.50 225.50 L386.50 246.50 L398.50 246.50 L398.50 289.50 L408.50 289.50 L408.50 311.50 L435.50 311.50 L435.50 333.50" fill="none" stroke="#1a1a1a" stroke-width="1" stroke-linejoin="miter"/>
<line x1="295.70" y1="367.90" x2="307.80" y2="367.90" stroke="#1a1a1a" stroke-width="1.1"/>
<line x1="301.50" y1="366.30" x2="301.50" y2="367.90" stroke="#1a1a1a" stroke-width="0.9"/>
<text x="317.40" y="370.48" font-size="8.0" text-anchor="start" font-weight="normal" fill="#111" stroke="#111" stroke-width="0.28">Vehicle</text>
<line x1="295.70" y1="379.70" x2="307.80" y2="379.70" stroke="#4f4f4f" stroke-width="1.1"/>
<line x1="301.50" y1="378.10" x2="301.50" y2="379.70" stroke="#4f4f4f" stroke-width="0.9"/>
<text x="317.40" y="382.18" font-size="8.0" text-anchor="start" font-weight="normal" fill="#111" stroke="#111" stroke-width="0.28">Adagrasib 30 mg/kg</text>
<line x1="403.80" y1="368.50" x2="415.60" y2="368.50" stroke="#3557a6" stroke-width="1.1"/>
<line x1="409.50" y1="366.90" x2="409.50" y2="368.50" stroke="#3557a6" stroke-width="0.9"/>
<text x="425.00" y="371.18" font-size="8.0" text-anchor="start" font-weight="normal" fill="#111" stroke="#111" stroke-width="0.28">Adagrasib 3 mg/kg</text>
<line x1="403.80" y1="380.30" x2="415.60" y2="380.30" stroke="#8696c4" stroke-width="1.1"/>
<line x1="409.50" y1="378.70" x2="409.50" y2="380.30" stroke="#8696c4" stroke-width="0.9"/>
<text x="425.00" y="382.88" font-size="8.0" text-anchor="start" font-weight="normal" fill="#111" stroke="#111" stroke-width="0.28">Adagrasib 100 mg/kg</text>
<text x="4.00" y="409.02" font-size="17" text-anchor="start" font-weight="bold" fill="#0a0a0a">D</text>
<line x1="46.50" y1="410.00" x2="46.50" y2="535.30" stroke="#2a2a2a" stroke-width="1"/>
<line x1="46.30" y1="534.50" x2="234.00" y2="534.50" stroke="#2a2a2a" stroke-width="1"/>
<line x1="43.30" y1="534.50" x2="46.80" y2="534.50" stroke="#2a2a2a" stroke-width="1"/>
<text x="40.40" y="537.98" font-size="8" text-anchor="end" fill="#111" stroke="#111" stroke-width="0.28">10<tspan font-size="5" dy="-2.7">5</tspan></text>
<line x1="43.30" y1="509.50" x2="46.80" y2="509.50" stroke="#2a2a2a" stroke-width="1"/>
<text x="40.40" y="513.43" font-size="8" text-anchor="end" fill="#111" stroke="#111" stroke-width="0.28">10<tspan font-size="5" dy="-2.7">6</tspan></text>
<line x1="43.30" y1="485.50" x2="46.80" y2="485.50" stroke="#2a2a2a" stroke-width="1"/>
<text x="40.40" y="488.88" font-size="8" text-anchor="end" fill="#111" stroke="#111" stroke-width="0.28">10<tspan font-size="5" dy="-2.7">7</tspan></text>
<line x1="43.30" y1="460.50" x2="46.80" y2="460.50" stroke="#2a2a2a" stroke-width="1"/>
<text x="40.40" y="464.33" font-size="8" text-anchor="end" fill="#111" stroke="#111" stroke-width="0.28">10<tspan font-size="5" dy="-2.7">8</tspan></text>
<line x1="43.30" y1="435.50" x2="46.80" y2="435.50" stroke="#2a2a2a" stroke-width="1"/>
<text x="40.40" y="439.78" font-size="8" text-anchor="end" fill="#111" stroke="#111" stroke-width="0.28">10<tspan font-size="5" dy="-2.7">9</tspan></text>
<line x1="43.30" y1="410.50" x2="46.80" y2="410.50" stroke="#2a2a2a" stroke-width="1"/>
<text x="40.40" y="415.23" font-size="8" text-anchor="end" fill="#111" stroke="#111" stroke-width="0.28">10<tspan font-size="5" dy="-2.7">10</tspan></text>
<line x1="65.50" y1="534.80" x2="65.50" y2="538.30" stroke="#2a2a2a" stroke-width="1"/>
<text x="65.40" y="548.88" font-size="8.0" text-anchor="middle" font-weight="normal" fill="#111" stroke="#111" stroke-width="0.28">13</text>
<line x1="102.50" y1="534.80" x2="102.50" y2="538.30" stroke="#2a2a2a" stroke-width="1"/>
<text x="102.60" y="548.88" font-size="8.0" text-anchor="middle" font-weight="normal" fill="#111" stroke="#111" stroke-width="0.28">18</text>
<line x1="139.50" y1="534.80" x2="139.50" y2="538.30" stroke="#2a2a2a" stroke-width="1"/>
<text x="139.90" y="548.88" font-size="8.0" text-anchor="middle" font-weight="normal" fill="#111" stroke="#111" stroke-width="0.28">21</text>
<line x1="177.50" y1="534.80" x2="177.50" y2="538.30" stroke="#2a2a2a" stroke-width="1"/>
<text x="177.20" y="548.88" font-size="8.0" text-anchor="middle" font-weight="normal" fill="#111" stroke="#111" stroke-width="0.28">25</text>
<line x1="214.50" y1="534.80" x2="214.50" y2="538.30" stroke="#2a2a2a" stroke-width="1"/>
<text x="215.40" y="548.88" font-size="8.0" text-anchor="middle" font-weight="normal" fill="#111" stroke="#111" stroke-width="0.28">34*</text>
<line x1="73.50" y1="474.00" x2="73.50" y2="514.60" stroke="#444" stroke-width="0.8"/>
<line x1="70.20" y1="474.50" x2="76.20" y2="474.50" stroke="#444" stroke-width="0.8"/>
<line x1="70.20" y1="514.50" x2="76.20" y2="514.50" stroke="#444" stroke-width="0.8"/>
<circle cx="65.40" cy="474.00" r="2.55" fill="#111" stroke="none" stroke-width="1"/>
<circle cx="65.40" cy="480.30" r="2.55" fill="#111" stroke="none" stroke-width="1"/>
<circle cx="65.40" cy="492.00" r="2.55" fill="#111" stroke="none" stroke-width="1"/>
<circle cx="65.40" cy="500.40" r="2.55" fill="#111" stroke="none" stroke-width="1"/>
<circle cx="65.40" cy="525.40" r="2.55" fill="#111" stroke="none" stroke-width="1"/>
<circle cx="73.20" cy="494.00" r="2.55" fill="#111" stroke="none" stroke-width="1"/>
<line x1="110.50" y1="453.40" x2="110.50" y2="504.60" stroke="#444" stroke-width="0.8"/>
<line x1="107.40" y1="453.50" x2="113.40" y2="453.50" stroke="#444" stroke-width="0.8"/>
<line x1="107.40" y1="504.50" x2="113.40" y2="504.50" stroke="#444" stroke-width="0.8"/>
<circle cx="102.60" cy="451.30" r="2.55" fill="#111" stroke="none" stroke-width="1"/>
<circle cx="102.60" cy="465.00" r="2.55" fill="#111" stroke="none" stroke-width="1"/>
<circle cx="102.60" cy="472.90" r="2.55" fill="#111" stroke="none" stroke-width="1"/>
<circle cx="102.60" cy="489.20" r="2.55" fill="#111" stroke="none" stroke-width="1"/>
<circle cx="102.60" cy="517.70" r="2.55" fill="#111" stroke="none" stroke-width="1"/>
<circle cx="110.40" cy="479.20" r="2.55" fill="#111" stroke="none" stroke-width="1"/>
<line x1="147.50" y1="445.40" x2="147.50" y2="512.70" stroke="#444" stroke-width="0.8"/>
<line x1="144.70" y1="445.50" x2="150.70" y2="445.50" stroke="#444" stroke-width="0.8"/>
<line x1="144.70" y1="512.50" x2="150.70" y2="512.50" stroke="#444" stroke-width="0.8"/>
<circle cx="139.90" cy="443.30" r="2.55" fill="#111" stroke="none" stroke-width="1"/>
<circle cx="139.90" cy="457.00" r="2.55" fill="#111" stroke="none" stroke-width="1"/>
<circle cx="139.90" cy="465.00" r="2.55" fill="#111" stroke="none" stroke-width="1"/>
<circle cx="139.90" cy="513.00" r="2.55" fill="#111" stroke="none" stroke-width="1"/>
<circle cx="139.90" cy="516.90" r="2.55" fill="#111" stroke="none" stroke-width="1"/>
<circle cx="147.70" cy="479.20" r="2.55" fill="#111" stroke="none" stroke-width="1"/>
<line x1="185.50" y1="456.50" x2="185.50" y2="508.20" stroke="#444" stroke-width="0.8"/>
<line x1="182.00" y1="456.50" x2="188.00" y2="456.50" stroke="#444" stroke-width="0.8"/>
<line x1="182.00" y1="508.50" x2="188.00" y2="508.50" stroke="#444" stroke-width="0.8"/>
<circle cx="177.20" cy="446.90" r="2.55" fill="#111" stroke="none" stroke-width="1"/>
<circle cx="177.20" cy="477.30" r="2.55" fill="#111" stroke="none" stroke-width="1"/>
<circle cx="177.20" cy="481.10" r="2.55" fill="#111" stroke="none" stroke-width="1"/>
<circle cx="177.20" cy="488.20" r="2.55" fill="#111" stroke="none" stroke-width="1"/>
<circle cx="177.20" cy="519.10" r="2.55" fill="#111" stroke="none" stroke-width="1"/>
<circle cx="185.00" cy="482.40" r="2.55" fill="#111" stroke="none" stroke-width="1"/>
<line x1="222.50" y1="430.90" x2="222.50" y2="486.20" stroke="#444" stroke-width="0.8"/>
<line x1="219.20" y1="430.50" x2="225.20" y2="430.50" stroke="#444" stroke-width="0.8"/>
<line x1="219.20" y1="486.50" x2="225.20" y2="486.50" stroke="#444" stroke-width="0.8"/>
<circle cx="214.40" cy="427.90" r="2.55" fill="#111" stroke="none" stroke-width="1"/>
<circle cx="214.40" cy="434.20" r="2.55" fill="#111" stroke="none" stroke-width="1"/>
<circle cx="214.40" cy="464.10" r="2.55" fill="#111" stroke="none" stroke-width="1"/>
<circle cx="214.40" cy="472.20" r="2.55" fill="#111" stroke="none" stroke-width="1"/>
<circle cx="214.40" cy="495.00" r="2.55" fill="#111" stroke="none" stroke-width="1"/>
<circle cx="222.20" cy="458.80" r="2.55" fill="#111" stroke="none" stroke-width="1"/>
<text x="15.50" y="477.88" font-size="8.0" text-anchor="middle" font-weight="normal" fill="#111" stroke="#111" stroke-width="0.28" transform="rotate(-90 15.50 475.00)">Photons/sec</text>
<text x="140.00" y="563.18" font-size="8.0" text-anchor="middle" font-weight="normal" fill="#111" stroke="#111" stroke-width="0.28">Days post implantation</text>
<line x1="318.50" y1="410.00" x2="318.50" y2="535.30" stroke="#2a2a2a" stroke-width="1"/>
<line x1="318.10" y1="534.50" x2="504.50" y2="534.50" stroke="#2a2a2a" stroke-width="1"/>
<line x1="315.10" y1="534.50" x2="318.60" y2="534.50" stroke="#2a2a2a" stroke-width="1"/>
<text x="312.20" y="537.98" font-size="8" text-anchor="end" fill="#111" stroke="#111" stroke-width="0.28">10<tspan font-size="5" dy="-2.7">5</tspan></text>
<line x1="315.10" y1="509.50" x2="318.60" y2="509.50" stroke="#2a2a2a" stroke-width="1"/>
<text x="312.20" y="513.43" font-size="8" text-anchor="end" fill="#111" stroke="#111" stroke-width="0.28">10<tspan font-size="5" dy="-2.7">6</tspan></text>
<line x1="315.10" y1="485.50" x2="318.60" y2="485.50" stroke="#2a2a2a" stroke-width="1"/>
<text x="312.20" y="488.88" font-size="8" text-anchor="end" fill="#111" stroke="#111" stroke-width="0.28">10<tspan font-size="5" dy="-2.7">7</tspan></text>
<line x1="315.10" y1="460.50" x2="318.60" y2="460.50" stroke="#2a2a2a" stroke-width="1"/>
<text x="312.20" y="464.33" font-size="8" text-anchor="end" fill="#111" stroke="#111" stroke-width="0.28">10<tspan font-size="5" dy="-2.7">8</tspan></text>
<line x1="315.10" y1="435.50" x2="318.60" y2="435.50" stroke="#2a2a2a" stroke-width="1"/>
<text x="312.20" y="439.78" font-size="8" text-anchor="end" fill="#111" stroke="#111" stroke-width="0.28">10<tspan font-size="5" dy="-2.7">9</tspan></text>
<line x1="315.10" y1="410.50" x2="318.60" y2="410.50" stroke="#2a2a2a" stroke-width="1"/>
<text x="312.20" y="415.23" font-size="8" text-anchor="end" fill="#111" stroke="#111" stroke-width="0.28">10<tspan font-size="5" dy="-2.7">10</tspan></text>
<line x1="337.50" y1="534.80" x2="337.50" y2="538.30" stroke="#2a2a2a" stroke-width="1"/>
<text x="337.10" y="548.88" font-size="8.0" text-anchor="middle" font-weight="normal" fill="#111" stroke="#111" stroke-width="0.28">13</text>
<line x1="374.50" y1="534.80" x2="374.50" y2="538.30" stroke="#2a2a2a" stroke-width="1"/>
<text x="374.40" y="548.88" font-size="8.0" text-anchor="middle" font-weight="normal" fill="#111" stroke="#111" stroke-width="0.28">18</text>
<line x1="411.50" y1="534.80" x2="411.50" y2="538.30" stroke="#2a2a2a" stroke-width="1"/>
<text x="411.60" y="548.88" font-size="8.0" text-anchor="middle" font-weight="normal" fill="#111" stroke="#111" stroke-width="0.28">21</text>
<line x1="448.50" y1="534.80" x2="448.50" y2="538.30" stroke="#2a2a2a" stroke-width="1"/>
<text x="448.50" y="548.88" font-size="8.0" text-anchor="middle" font-weight="normal" fill="#111" stroke="#111" stroke-width="0.28">25</text>
<line x1="485.50" y1="534.80" x2="485.50" y2="538.30" stroke="#2a2a2a" stroke-width="1"/>
<text x="486.70" y="548.88" font-size="8.0" text-anchor="middle" font-weight="normal" fill="#111" stroke="#111" stroke-width="0.28">34*</text>
<line x1="344.50" y1="474.30" x2="344.50" y2="514.20" stroke="#dc2329" stroke-width="0.8"/>
<line x1="341.90" y1="474.50" x2="347.90" y2="474.50" stroke="#dc2329" stroke-width="0.8"/>
<line x1="341.90" y1="514.50" x2="347.90" y2="514.50" stroke="#dc2329" stroke-width="0.8"/>
<circle cx="337.10" cy="473.60" r="2.55" fill="#dc2329" stroke="none" stroke-width="1"/>
<circle cx="337.10" cy="479.90" r="2.55" fill="#dc2329" stroke="none" stroke-width="1"/>
<circle cx="337.10" cy="490.00" r="2.55" fill="#dc2329" stroke="none" stroke-width="1"/>
<circle cx="337.10" cy="500.70" r="2.55" fill="#dc2329" stroke="none" stroke-width="1"/>
<circle cx="337.10" cy="524.30" r="2.55" fill="#dc2329" stroke="none" stroke-width="1"/>
<circle cx="344.90" cy="494.40" r="2.55" fill="#dc2329" stroke="none" stroke-width="1"/>
<line x1="382.50" y1="503.50" x2="382.50" y2="527.30" stroke="#dc2329" stroke-width="0.8"/>
<line x1="379.20" y1="503.50" x2="385.20" y2="503.50" stroke="#dc2329" stroke-width="0.8"/>
<line x1="379.20" y1="527.50" x2="385.20" y2="527.50" stroke="#dc2329" stroke-width="0.8"/>
<circle cx="374.40" cy="501.00" r="2.55" fill="#dc2329" stroke="none" stroke-width="1"/>
<circle cx="374.40" cy="508.60" r="2.55" fill="#dc2329" stroke="none" stroke-width="1"/>
<circle cx="374.40" cy="511.10" r="2.55" fill="#dc2329" stroke="none" stroke-width="1"/>
<circle cx="374.40" cy="526.10" r="2.55" fill="#dc2329" stroke="none" stroke-width="1"/>
<circle cx="374.40" cy="527.60" r="2.55" fill="#dc2329" stroke="none" stroke-width="1"/>
<circle cx="382.20" cy="515.40" r="2.55" fill="#dc2329" stroke="none" stroke-width="1"/>
<line x1="419.50" y1="508.60" x2="419.50" y2="534.50" stroke="#dc2329" stroke-width="0.8"/>
<line x1="416.40" y1="508.50" x2="422.40" y2="508.50" stroke="#dc2329" stroke-width="0.8"/>
<line x1="416.40" y1="534.50" x2="422.40" y2="534.50" stroke="#dc2329" stroke-width="0.8"/>
<circle cx="411.60" cy="498.90" r="2.55" fill="#dc2329" stroke="none" stroke-width="1"/>
<circle cx="411.60" cy="518.00" r="2.55" fill="#dc2329" stroke="none" stroke-width="1"/>
<circle cx="411.60" cy="529.40" r="2.55" fill="#dc2329" stroke="none" stroke-width="1"/>
<circle cx="419.40" cy="521.80" r="2.55" fill="#dc2329" stroke="none" stroke-width="1"/>
<line x1="456.50" y1="504.80" x2="456.50" y2="527.30" stroke="#dc2329" stroke-width="0.8"/>
<line x1="453.30" y1="504.50" x2="459.30" y2="504.50" stroke="#dc2329" stroke-width="0.8"/>
<line x1="453.30" y1="527.50" x2="459.30" y2="527.50" stroke="#dc2329" stroke-width="0.8"/>
<circle cx="448.50" cy="506.50" r="2.55" fill="#dc2329" stroke="none" stroke-width="1"/>
<circle cx="448.50" cy="509.10" r="2.55" fill="#dc2329" stroke="none" stroke-width="1"/>
<circle cx="448.50" cy="524.30" r="2.55" fill="#dc2329" stroke="none" stroke-width="1"/>
<circle cx="448.50" cy="529.90" r="2.55" fill="#dc2329" stroke="none" stroke-width="1"/>
<circle cx="456.30" cy="515.90" r="2.55" fill="#dc2329" stroke="none" stroke-width="1"/>
<line x1="493.50" y1="502.70" x2="493.50" y2="532.40" stroke="#dc2329" stroke-width="0.8"/>
<line x1="490.50" y1="502.50" x2="496.50" y2="502.50" stroke="#dc2329" stroke-width="0.8"/>
<line x1="490.50" y1="532.50" x2="496.50" y2="532.50" stroke="#dc2329" stroke-width="0.8"/>
<circle cx="485.70" cy="494.40" r="2.55" fill="#dc2329" stroke="none" stroke-width="1"/>
<circle cx="485.70" cy="509.60" r="2.55" fill="#dc2329" stroke="none" stroke-width="1"/>
<circle cx="485.70" cy="525.60" r="2.55" fill="#dc2329" stroke="none" stroke-width="1"/>
<circle cx="485.70" cy="528.60" r="2.55" fill="#dc2329" stroke="none" stroke-width="1"/>
<circle cx="493.50" cy="517.20" r="2.55" fill="#dc2329" stroke="none" stroke-width="1"/>
<text x="289.70" y="477.88" font-size="8.0" text-anchor="middle" font-weight="normal" fill="#111" stroke="#111" stroke-width="0.28" transform="rotate(-90 289.70 475.00)">Photons/sec</text>
<text x="412.50" y="563.18" font-size="8.0" text-anchor="middle" font-weight="normal" fill="#111" stroke="#111" stroke-width="0.28">Days post implantation</text>
<linearGradient id="mb" x1="0" y1="0" x2="1" y2="0"><stop offset="0" stop-color="#303030"/><stop offset="0.25" stop-color="#4e4e4e"/><stop offset="0.5" stop-color="#5c5c5c"/><stop offset="0.75" stop-color="#4e4e4e"/><stop offset="1" stop-color="#303030"/></linearGradient>
<linearGradient id="mb2" x1="0" y1="0" x2="1" y2="0"><stop offset="0" stop-color="#353535"/><stop offset="0.25" stop-color="#505050"/><stop offset="0.5" stop-color="#5e5e5e"/><stop offset="0.75" stop-color="#505050"/><stop offset="1" stop-color="#353535"/></linearGradient>
<clipPath id="cl"><rect x="47" y="573.3" width="186" height="81"/></clipPath>
<rect x="47.00" y="573.30" width="186.00" height="81.00" fill="#222" stroke="none" stroke-width="1"/>
<g clip-path="url(#cl)">
<rect x="47.00" y="573.30" width="186.00" height="9.50" fill="#292929" stroke="none" stroke-width="1"/>
<g filter="url(#b1)">
<rect x="56.00" y="583.30" width="9.00" height="40.00" fill="#2a2a2a" stroke="none" stroke-width="1"/>
<rect x="93.00" y="583.30" width="9.00" height="40.00" fill="#2a2a2a" stroke="none" stroke-width="1"/>
<rect x="130.00" y="583.30" width="9.00" height="40.00" fill="#2a2a2a" stroke="none" stroke-width="1"/>
<rect x="158.00" y="583.30" width="9.00" height="40.00" fill="#2a2a2a" stroke="none" stroke-width="1"/>
<rect x="196.00" y="583.30" width="9.00" height="40.00" fill="#2a2a2a" stroke="none" stroke-width="1"/>
<rect x="47.00" y="583.30" width="8.00" height="81.00" fill="#2f2f2f" stroke="none" stroke-width="1"/>
</g>
<g filter="url(#b1)">
<rect x="63.8" y="589" width="3.0" height="27.0" fill="#686868" opacity="0.55"/>
<rect x="64.1" y="591" width="0.9" height="23.0" fill="#a8a8a8"/>
<rect x="66.1" y="592" width="0.8" height="21.0" fill="#989898"/>
<path d="M56.5 656.5 L56.5 644.0 C55.5 640.0 53.0 638.0 53.5 632.0 C54.0 627.0 59.5 625.5 60.0 622.0 C61.5 616.0 63.5 612.0 67.0 612.0 C70.5 612.0 72.5 616.0 74.0 622.0 C74.5 625.5 80.0 627.0 80.5 632.0 C81.0 638.0 78.5 640.0 77.5 644.0 L77.5 656.5 Z" fill="url(#mb)"/>
<rect x="59.5" y="631.0" width="15.0" height="0.9" fill="#333" opacity="0.5"/>
<rect x="59.5" y="634.3" width="15.0" height="0.9" fill="#333" opacity="0.5"/>
<rect x="59.5" y="637.6" width="15.0" height="0.9" fill="#333" opacity="0.5"/>
<rect x="59.5" y="640.9" width="15.0" height="0.9" fill="#333" opacity="0.5"/>
<rect x="59.5" y="644.2" width="15.0" height="0.9" fill="#333" opacity="0.5"/>
<rect x="59.5" y="647.5" width="15.0" height="0.9" fill="#333" opacity="0.5"/>
<rect x="59.5" y="650.8" width="15.0" height="0.9" fill="#333" opacity="0.5"/>
<rect x="59.5" y="654.1" width="15.0" height="0.9" fill="#333" opacity="0.5"/>
<rect x="100.8" y="583" width="3.0" height="23.0" fill="#686868" opacity="0.55"/>
<rect x="101.1" y="585" width="0.9" height="19.0" fill="#a8a8a8"/>
<rect x="103.1" y="586" width="0.8" height="17.0" fill="#989898"/>
<path d="M91.0 656.5 L91.0 634.0 C90.0 630.0 87.5 628.0 88.0 622.0 C88.5 617.0 94.0 615.5 97.0 612.0 C98.5 606.0 100.5 602.0 104.0 602.0 C107.5 602.0 109.5 606.0 111.0 612.0 C114.0 615.5 119.5 617.0 120.0 622.0 C120.5 628.0 118.0 630.0 117.0 634.0 L117.0 656.5 Z" fill="url(#mb)"/>
<rect x="94.0" y="621.0" width="20.0" height="0.9" fill="#333" opacity="0.5"/>
<rect x="94.0" y="624.3" width="20.0" height="0.9" fill="#333" opacity="0.5"/>
<rect x="94.0" y="627.6" width="20.0" height="0.9" fill="#333" opacity="0.5"/>
<rect x="94.0" y="630.9" width="20.0" height="0.9" fill="#333" opacity="0.5"/>
<rect x="94.0" y="634.2" width="20.0" height="0.9" fill="#333" opacity="0.5"/>
<rect x="94.0" y="637.5" width="20.0" height="0.9" fill="#333" opacity="0.5"/>
<rect x="94.0" y="640.8" width="20.0" height="0.9" fill="#333" opacity="0.5"/>
<rect x="94.0" y="644.1" width="20.0" height="0.9" fill="#333" opacity="0.5"/>
<rect x="94.0" y="647.4" width="20.0" height="0.9" fill="#333" opacity="0.5"/>
<rect x="140.3" y="584" width="3.0" height="24.0" fill="#686868" opacity="0.55"/>
<rect x="140.6" y="586" width="0.9" height="20.0" fill="#a8a8a8"/>
<rect x="142.6" y="587" width="0.8" height="18.0" fill="#989898"/>
<path d="M130.5 656.5 L130.5 636.0 C129.5 632.0 127.0 630.0 127.5 624.0 C128.0 619.0 133.5 617.5 136.5 614.0 C138.0 608.0 140.0 604.0 143.5 604.0 C147.0 604.0 149.0 608.0 150.5 614.0 C153.5 617.5 159.0 619.0 159.5 624.0 C160.0 630.0 157.5 632.0 156.5 636.0 L156.5 656.5 Z" fill="url(#mb)"/>
<rect x="133.5" y="623.0" width="20.0" height="0.9" fill="#333" opacity="0.5"/>
<rect x="133.5" y="626.3" width="20.0" height="0.9" fill="#333" opacity="0.5"/>
<rect x="133.5" y="629.6" width="20.0" height="0.9" fill="#333" opacity="0.5"/>
<rect x="133.5" y="632.9" width="20.0" height="0.9" fill="#333" opacity="0.5"/>
<rect x="133.5" y="636.2" width="20.0" height="0.9" fill="#333" opacity="0.5"/>
<rect x="133.5" y="639.5" width="20.0" height="0.9" fill="#333" opacity="0.5"/>
<rect x="133.5" y="642.8" width="20.0" height="0.9" fill="#333" opacity="0.5"/>
<rect x="133.5" y="646.1" width="20.0" height="0.9" fill="#333" opacity="0.5"/>
<rect x="133.5" y="649.4" width="20.0" height="0.9" fill="#333" opacity="0.5"/>
<rect x="175.8" y="586" width="3.0" height="24.0" fill="#686868" opacity="0.55"/>
<rect x="176.1" y="588" width="0.9" height="20.0" fill="#a8a8a8"/>
<rect x="178.1" y="589" width="0.8" height="18.0" fill="#989898"/>
<path d="M165.5 656.5 L165.5 638.0 C164.5 634.0 162.0 632.0 162.5 626.0 C163.0 621.0 168.5 619.5 172.0 616.0 C173.5 610.0 175.5 606.0 179.0 606.0 C182.5 606.0 184.5 610.0 186.0 616.0 C189.5 619.5 195.0 621.0 195.5 626.0 C196.0 632.0 193.5 634.0 192.5 638.0 L192.5 656.5 Z" fill="url(#mb)"/>
<rect x="168.5" y="625.0" width="21.0" height="0.9" fill="#333" opacity="0.5"/>
<rect x="168.5" y="628.3" width="21.0" height="0.9" fill="#333" opacity="0.5"/>
<rect x="168.5" y="631.6" width="21.0" height="0.9" fill="#333" opacity="0.5"/>
<rect x="168.5" y="634.9" width="21.0" height="0.9" fill="#333" opacity="0.5"/>
<rect x="168.5" y="638.2" width="21.0" height="0.9" fill="#333" opacity="0.5"/>
<rect x="168.5" y="641.5" width="21.0" height="0.9" fill="#333" opacity="0.5"/>
<rect x="168.5" y="644.8" width="21.0" height="0.9" fill="#333" opacity="0.5"/>
<rect x="168.5" y="648.1" width="21.0" height="0.9" fill="#333" opacity="0.5"/>
<rect x="168.5" y="651.4" width="21.0" height="0.9" fill="#333" opacity="0.5"/>
<rect x="213.8" y="580" width="3.0" height="28.0" fill="#686868" opacity="0.55"/>
<rect x="214.1" y="582" width="0.9" height="24.0" fill="#a8a8a8"/>
<rect x="216.1" y="583" width="0.8" height="22.0" fill="#989898"/>
<path d="M203.0 656.5 L203.0 636.0 C202.0 632.0 199.5 630.0 200.0 624.0 C200.5 619.0 206.0 617.5 210.0 614.0 C211.5 608.0 213.5 604.0 217.0 604.0 C220.5 604.0 222.5 608.0 224.0 614.0 C228.0 617.5 233.5 619.0 234.0 624.0 C234.5 630.0 232.0 632.0 231.0 636.0 L231.0 656.5 Z" fill="url(#mb)"/>
<rect x="206.0" y="623.0" width="22.0" height="0.9" fill="#333" opacity="0.5"/>
<rect x="206.0" y="626.3" width="22.0" height="0.9" fill="#333" opacity="0.5"/>
<rect x="206.0" y="629.6" width="22.0" height="0.9" fill="#333" opacity="0.5"/>
<rect x="206.0" y="632.9" width="22.0" height="0.9" fill="#333" opacity="0.5"/>
<rect x="206.0" y="636.2" width="22.0" height="0.9" fill="#333" opacity="0.5"/>
<rect x="206.0" y="639.5" width="22.0" height="0.9" fill="#333" opacity="0.5"/>
<rect x="206.0" y="642.8" width="22.0" height="0.9" fill="#333" opacity="0.5"/>
<rect x="206.0" y="646.1" width="22.0" height="0.9" fill="#333" opacity="0.5"/>
<rect x="206.0" y="649.4" width="22.0" height="0.9" fill="#333" opacity="0.5"/>
</g>
<g filter="url(#b1)">
<circle cx="67.80" cy="620.00" r="4.4" fill="#3046e6" stroke="none" stroke-width="1"/>
<circle cx="68.00" cy="619.60" r="2" fill="#4666ff" stroke="none" stroke-width="1"/>
<ellipse cx="104.2" cy="606.6" rx="6.6" ry="8.4" fill="#2f44e0"/>
<ellipse cx="105.4" cy="605.2" rx="3" ry="3.8" fill="#2fa8f4"/>
<ellipse cx="105.8" cy="604.8" rx="1.4" ry="1.8" fill="#48e0e8"/>
<ellipse cx="143.7" cy="609" rx="7" ry="9" fill="#2f44dd"/>
<ellipse cx="143.9" cy="609" rx="4.8" ry="5.9" fill="#27c4e8"/>
<ellipse cx="144" cy="609" rx="3.3" ry="4" fill="#5fe03a"/>
<ellipse cx="144.3" cy="609.3" rx="1.7" ry="2.1" fill="#e8f030"/>
<path d="M164.8 618.5 C168 615.5 169.5 612 169 606 C169 598 174 594.3 179 594.3 C184 594.3 188.7 598 188.5 606 C188 612 190 615.5 191.8 618.5 C186 621 171 621 164.8 618.5 Z" fill="#3045dc"/>
<ellipse cx="179.2" cy="609" rx="7.8" ry="9.6" fill="#27bfe8"/>
<ellipse cx="179.2" cy="609.1" rx="6.9" ry="8.5" fill="#58d63a"/>
<ellipse cx="179.2" cy="609.2" rx="6.1" ry="7.5" fill="#f2e82c"/>
<ellipse cx="179.2" cy="609.2" rx="5" ry="6.3" fill="#ee2a24"/>
<path d="M198.3 616 C201 612.5 207.5 612 208.6 606 C207.5 594 211 587.8 217.6 587.8 C224 587.8 228.2 594 227.2 606 C228 612 231 612.5 232.5 616 C230 620.5 222 621.5 215 621 C207 621.5 200 620 198.3 616 Z" fill="#3045dc"/>
<ellipse cx="217.6" cy="606" rx="9.3" ry="11.2" fill="#27bfe8"/>
<ellipse cx="217.6" cy="606" rx="8.4" ry="10.1" fill="#58d63a"/>
<ellipse cx="217.6" cy="606" rx="7.6" ry="9.1" fill="#f2e82c"/>
<ellipse cx="217.6" cy="606" rx="6.6" ry="7.9" fill="#ee2a24"/>
</g>
</g>
<text x="65.40" y="576.71" font-size="4.2" text-anchor="middle" font-weight="normal" fill="#e8e8e8">D13</text>
<text x="103.30" y="576.71" font-size="4.2" text-anchor="middle" font-weight="normal" fill="#e8e8e8">D18</text>
<text x="138.60" y="576.71" font-size="4.2" text-anchor="middle" font-weight="normal" fill="#e8e8e8">D21</text>
<text x="177.00" y="576.71" font-size="4.2" text-anchor="middle" font-weight="normal" fill="#e8e8e8">D25</text>
<text x="215.70" y="576.71" font-size="4.2" text-anchor="middle" font-weight="normal" fill="#e8e8e8">D34</text>
<text x="141.00" y="665.88" font-size="8.0" text-anchor="middle" font-weight="normal" fill="#111" stroke="#111" stroke-width="0.28">Vehicle</text>
<clipPath id="cr"><rect x="321" y="573.3" width="187.2" height="80.7"/></clipPath>
<rect x="321.00" y="573.30" width="187.20" height="80.70" fill="#252525" stroke="none" stroke-width="1"/>
<g clip-path="url(#cr)">
<rect x="321.00" y="573.30" width="187.20" height="9.50" fill="#2d2d2d" stroke="none" stroke-width="1"/>
<g filter="url(#b1)">
<rect x="350.00" y="583.30" width="10.00" height="34.00" fill="#2b2b2b" stroke="none" stroke-width="1"/>
<rect x="388.00" y="583.30" width="10.00" height="34.00" fill="#2b2b2b" stroke="none" stroke-width="1"/>
<rect x="426.00" y="583.30" width="10.00" height="34.00" fill="#2b2b2b" stroke="none" stroke-width="1"/>
<rect x="464.00" y="583.30" width="10.00" height="34.00" fill="#2b2b2b" stroke="none" stroke-width="1"/>
</g>
<g filter="url(#b1)">
<rect x="336.8" y="585" width="3.0" height="26.0" fill="#8a8a8a" opacity="0.55"/>
<rect x="337.1" y="587" width="0.9" height="22.0" fill="#a8a8a8"/>
<rect x="339.1" y="588" width="0.8" height="20.0" fill="#989898"/>
<path d="M326.5 656.5 L326.5 639.0 C325.5 635.0 323.0 633.0 323.5 627.0 C324.0 622.0 329.5 620.5 333.0 617.0 C334.5 611.0 336.5 607.0 340.0 607.0 C343.5 607.0 345.5 611.0 347.0 617.0 C350.5 620.5 356.0 622.0 356.5 627.0 C357.0 633.0 354.5 635.0 353.5 639.0 L353.5 656.5 Z" fill="url(#mb2)"/>
<rect x="329.5" y="626.0" width="21.0" height="0.9" fill="#333" opacity="0.5"/>
<rect x="329.5" y="629.3" width="21.0" height="0.9" fill="#333" opacity="0.5"/>
<rect x="329.5" y="632.6" width="21.0" height="0.9" fill="#333" opacity="0.5"/>
<rect x="329.5" y="635.9" width="21.0" height="0.9" fill="#333" opacity="0.5"/>
<rect x="329.5" y="639.2" width="21.0" height="0.9" fill="#333" opacity="0.5"/>
<rect x="329.5" y="642.5" width="21.0" height="0.9" fill="#333" opacity="0.5"/>
<rect x="329.5" y="645.8" width="21.0" height="0.9" fill="#333" opacity="0.5"/>
<rect x="329.5" y="649.1" width="21.0" height="0.9" fill="#333" opacity="0.5"/>
<rect x="329.5" y="652.4" width="21.0" height="0.9" fill="#333" opacity="0.5"/>
<rect x="371.6" y="585" width="3.0" height="26.0" fill="#8a8a8a" opacity="0.55"/>
<rect x="371.9" y="587" width="0.9" height="22.0" fill="#a8a8a8"/>
<rect x="373.9" y="588" width="0.8" height="20.0" fill="#989898"/>
<path d="M361.3 656.5 L361.3 639.0 C360.3 635.0 357.8 633.0 358.3 627.0 C358.8 622.0 364.3 620.5 367.8 617.0 C369.3 611.0 371.3 607.0 374.8 607.0 C378.3 607.0 380.3 611.0 381.8 617.0 C385.3 620.5 390.8 622.0 391.3 627.0 C391.8 633.0 389.3 635.0 388.3 639.0 L388.3 656.5 Z" fill="url(#mb2)"/>
<rect x="364.3" y="626.0" width="21.0" height="0.9" fill="#333" opacity="0.5"/>
<rect x="364.3" y="629.3" width="21.0" height="0.9" fill="#333" opacity="0.5"/>
<rect x="364.3" y="632.6" width="21.0" height="0.9" fill="#333" opacity="0.5"/>
<rect x="364.3" y="635.9" width="21.0" height="0.9" fill="#333" opacity="0.5"/>
<rect x="364.3" y="639.2" width="21.0" height="0.9" fill="#333" opacity="0.5"/>
<rect x="364.3" y="642.5" width="21.0" height="0.9" fill="#333" opacity="0.5"/>
<rect x="364.3" y="645.8" width="21.0" height="0.9" fill="#333" opacity="0.5"/>
<rect x="364.3" y="649.1" width="21.0" height="0.9" fill="#333" opacity="0.5"/>
<rect x="364.3" y="652.4" width="21.0" height="0.9" fill="#333" opacity="0.5"/>
<rect x="410.8" y="585" width="3.0" height="26.0" fill="#8a8a8a" opacity="0.55"/>
<rect x="411.1" y="587" width="0.9" height="22.0" fill="#a8a8a8"/>
<rect x="413.1" y="588" width="0.8" height="20.0" fill="#989898"/>
<path d="M400.5 656.5 L400.5 639.0 C399.5 635.0 397.0 633.0 397.5 627.0 C398.0 622.0 403.5 620.5 407.0 617.0 C408.5 611.0 410.5 607.0 414.0 607.0 C417.5 607.0 419.5 611.0 421.0 617.0 C424.5 620.5 430.0 622.0 430.5 627.0 C431.0 633.0 428.5 635.0 427.5 639.0 L427.5 656.5 Z" fill="url(#mb2)"/>
<rect x="403.5" y="626.0" width="21.0" height="0.9" fill="#333" opacity="0.5"/>
<rect x="403.5" y="629.3" width="21.0" height="0.9" fill="#333" opacity="0.5"/>
<rect x="403.5" y="632.6" width="21.0" height="0.9" fill="#333" opacity="0.5"/>
<rect x="403.5" y="635.9" width="21.0" height="0.9" fill="#333" opacity="0.5"/>
<rect x="403.5" y="639.2" width="21.0" height="0.9" fill="#333" opacity="0.5"/>
<rect x="403.5" y="642.5" width="21.0" height="0.9" fill="#333" opacity="0.5"/>
<rect x="403.5" y="645.8" width="21.0" height="0.9" fill="#333" opacity="0.5"/>
<rect x="403.5" y="649.1" width="21.0" height="0.9" fill="#333" opacity="0.5"/>
<rect x="403.5" y="652.4" width="21.0" height="0.9" fill="#333" opacity="0.5"/>
<rect x="448.4" y="585" width="3.0" height="26.0" fill="#8a8a8a" opacity="0.55"/>
<rect x="448.7" y="587" width="0.9" height="22.0" fill="#a8a8a8"/>
<rect x="450.7" y="588" width="0.8" height="20.0" fill="#989898"/>
<path d="M438.1 656.5 L438.1 639.0 C437.1 635.0 434.6 633.0 435.1 627.0 C435.6 622.0 441.1 620.5 444.6 617.0 C446.1 611.0 448.1 607.0 451.6 607.0 C455.1 607.0 457.1 611.0 458.6 617.0 C462.1 620.5 467.6 622.0 468.1 627.0 C468.6 633.0 466.1 635.0 465.1 639.0 L465.1 656.5 Z" fill="url(#mb2)"/>
<rect x="441.1" y="626.0" width="21.0" height="0.9" fill="#333" opacity="0.5"/>
<rect x="441.1" y="629.3" width="21.0" height="0.9" fill="#333" opacity="0.5"/>
<rect x="441.1" y="632.6" width="21.0" height="0.9" fill="#333" opacity="0.5"/>
<rect x="441.1" y="635.9" width="21.0" height="0.9" fill="#333" opacity="0.5"/>
<rect x="441.1" y="639.2" width="21.0" height="0.9" fill="#333" opacity="0.5"/>
<rect x="441.1" y="642.5" width="21.0" height="0.9" fill="#333" opacity="0.5"/>
<rect x="441.1" y="645.8" width="21.0" height="0.9" fill="#333" opacity="0.5"/>
<rect x="441.1" y="649.1" width="21.0" height="0.9" fill="#333" opacity="0.5"/>
<rect x="441.1" y="652.4" width="21.0" height="0.9" fill="#333" opacity="0.5"/>
<rect x="486.8" y="580" width="3.0" height="27.0" fill="#8a8a8a" opacity="0.55"/>
<rect x="487.1" y="582" width="0.9" height="23.0" fill="#a8a8a8"/>
<rect x="489.1" y="583" width="0.8" height="21.0" fill="#989898"/>
<path d="M476.0 656.5 L476.0 635.0 C475.0 631.0 472.5 629.0 473.0 623.0 C473.5 618.0 479.0 616.5 483.0 613.0 C484.5 607.0 486.5 603.0 490.0 603.0 C493.5 603.0 495.5 607.0 497.0 613.0 C501.0 616.5 506.5 618.0 507.0 623.0 C507.5 629.0 505.0 631.0 504.0 635.0 L504.0 656.5 Z" fill="url(#mb2)"/>
<rect x="479.0" y="622.0" width="22.0" height="0.9" fill="#333" opacity="0.5"/>
<rect x="479.0" y="625.3" width="22.0" height="0.9" fill="#333" opacity="0.5"/>
<rect x="479.0" y="628.6" width="22.0" height="0.9" fill="#333" opacity="0.5"/>
<rect x="479.0" y="631.9" width="22.0" height="0.9" fill="#333" opacity="0.5"/>
<rect x="479.0" y="635.2" width="22.0" height="0.9" fill="#333" opacity="0.5"/>
<rect x="479.0" y="638.5" width="22.0" height="0.9" fill="#333" opacity="0.5"/>
<rect x="479.0" y="641.8" width="22.0" height="0.9" fill="#333" opacity="0.5"/>
<rect x="479.0" y="645.1" width="22.0" height="0.9" fill="#333" opacity="0.5"/>
<rect x="479.0" y="648.4" width="22.0" height="0.9" fill="#333" opacity="0.5"/>
</g>
<g filter="url(#b1)">
<circle cx="338.50" cy="612.50" r="3.2" fill="#3a48c8" stroke="none" stroke-width="1" opacity="0.6"/>
<ellipse cx="491.6" cy="604.4" rx="4.5" ry="5.1" fill="#4a5cf0" opacity="0.85"/>
</g>
</g>
<text x="336.30" y="576.71" font-size="4.2" text-anchor="middle" font-weight="normal" fill="#e8e8e8">D13</text>
<text x="370.60" y="576.71" font-size="4.2" text-anchor="middle" font-weight="normal" fill="#e8e8e8">D18</text>
<text x="411.00" y="576.71" font-size="4.2" text-anchor="middle" font-weight="normal" fill="#e8e8e8">D21</text>
<text x="448.50" y="576.71" font-size="4.2" text-anchor="middle" font-weight="normal" fill="#e8e8e8">D25</text>
<text x="487.70" y="576.71" font-size="4.2" text-anchor="middle" font-weight="normal" fill="#e8e8e8">D34</text>
<text x="411.80" y="665.88" font-size="8.0" text-anchor="middle" font-weight="normal" fill="#111" stroke="#111" stroke-width="0.28">Adagrasib 100 mg/kg BID</text>
</svg>
</body></html>
